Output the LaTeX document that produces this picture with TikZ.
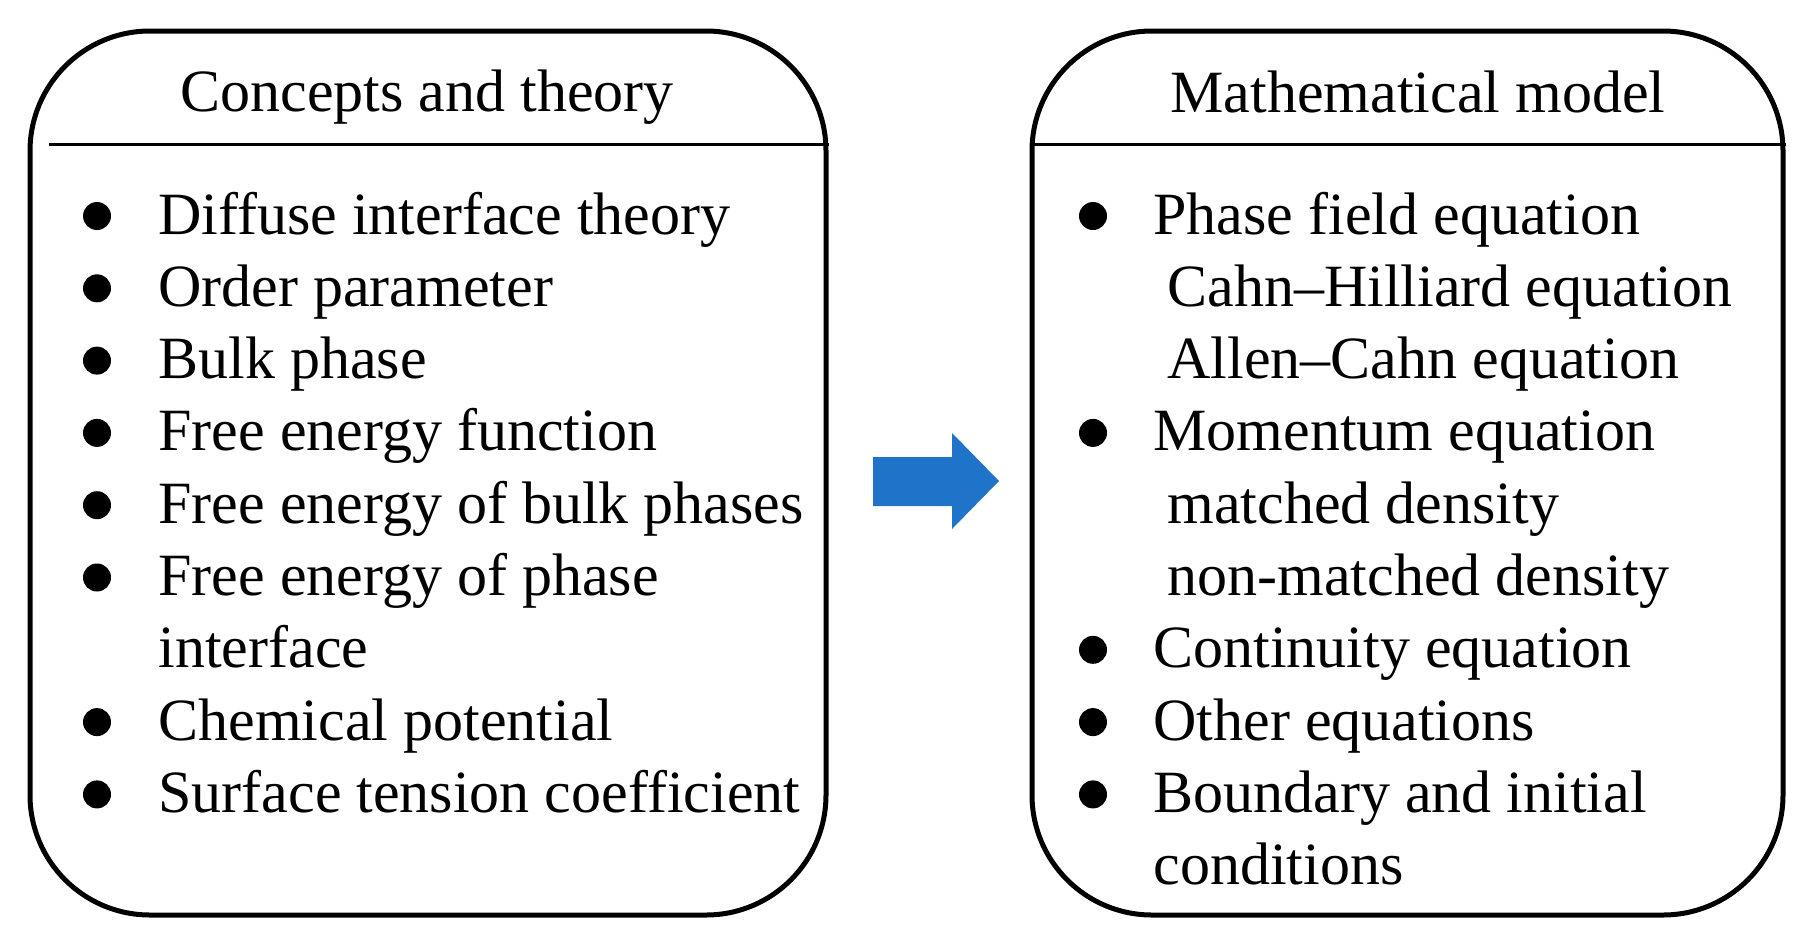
\documentclass[tikz,border=0pt]{standalone}
\usepackage{fontspec}
\setmainfont{Liberation Serif}
\definecolor{arrowblue}{RGB}{31,116,201}
\begin{document}
\begin{tikzpicture}[x=0.5pt,y=-0.5pt,
  box/.style={draw=black, line width=2.5pt, rounded corners=60pt, inner sep=0pt, fill=none},
  rule/.style={draw=black, line width=1.5pt},
  item/.style={anchor=base west, inner sep=0pt, font=\fontsize{30pt}{36pt}\selectfont},
  bul/.style={circle, fill=black, inner sep=0pt, minimum size=14pt},
  flow/.style={fill=arrowblue, draw=none}]
\useasboundingbox (0,0) rectangle (1816,943);
% boxes
\node[box, minimum width=398pt, minimum height=442pt] (L) at (428,473) {};
\node[box, minimum width=375.5pt, minimum height=442pt] (R) at (1407.5,473) {};
% title rules
\coordinate (Lr) at (49,144);
\coordinate (Rr) at (1032,144);
\draw[rule] (Lr) -- (L.east |- Lr);
\draw[rule] (R.west |- Rr) -- (R.east |- Rr);
% titles
\node[item] (Lt) at (180,111) {Concepts and theory};
\node[item] (Rt) at (1170,112) {Mathematical model};
% left items
\node[item] (l1) at (158,234) {Diffuse interface theory};
\node[item] (l2) at (158,306.3) {Order parameter};
\node[item] (l3) at (158,378.6) {Bulk phase};
\node[item] (l4) at (158,450.9) {Free energy function};
\node[item] (l5) at (158,523.2) {Free energy of bulk phases};
\node[item] (l6) at (158,595.5) {Free energy of phase};
\node[item] (l7) at (158,667.8) {interface};
\node[item] (l8) at (158,740.1) {Chemical potential};
\node[item] (l9) at (158,812.4) {Surface tension coefficient};
\foreach \y/\n in {234/a,306.3/b,378.6/c,450.9/d,523.2/e,595.5/f,740.1/g,812.4/h}
  \node[bul] (lb\n) at (97,\y-18) {};
% right items
\node[item] (r1) at (1153,234) {Phase field equation};
\node[item] (r2) at (1167,306.3) {Cahn–Hilliard equation};
\node[item] (r3) at (1167,378.6) {Allen–Cahn equation};
\node[item] (r4) at (1153,450.9) {Momentum equation};
\node[item] (r5) at (1167,523.2) {matched density};
\node[item] (r6) at (1167,595.5) {non-matched density};
\node[item] (r7) at (1153,667.8) {Continuity equation};
\node[item] (r8) at (1153,740.1) {Other equations};
\node[item] (r9) at (1153,812.4) {Boundary and initial};
\node[item] (r10) at (1153,884.7) {conditions};
\foreach \y/\n in {234/a,450.9/b,667.8/c,740.1/d,812.4/e}
  \node[bul] (rb\n) at (1093,\y-18) {};
% block arrow
\coordinate (a1) at (873,457);
\coordinate (a2) at (952,457);
\coordinate (a3) at (952,433);
\coordinate (a4) at (999,481);
\coordinate (a5) at (952,529);
\coordinate (a6) at (952,506);
\coordinate (a7) at (873,506);
\path[flow] (a1) -- (a2) -- (a3) -- (a4) -- (a5) -- (a6) -- (a7) -- cycle;
\end{tikzpicture}
\end{document}
